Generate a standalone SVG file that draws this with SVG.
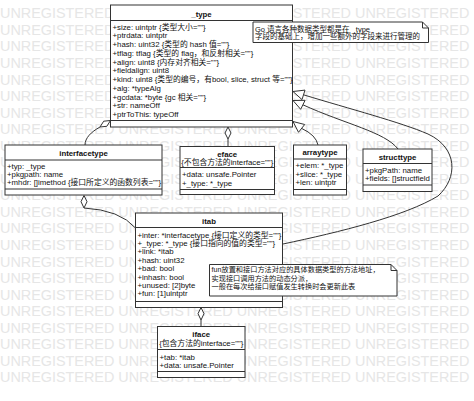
<svg xmlns="http://www.w3.org/2000/svg" width="474" height="401" viewBox="0 0 474 401">
<style>
.bg{fill:#fff}
.box{fill:#fff;stroke:#333;stroke-width:1}
.sep{stroke:#333;stroke-width:1}
.t{font-family:"Liberation Sans","Noto Sans CJK SC",sans-serif;font-size:7.8px;fill:#111}
.n1{font-size:7.5px}
.n2{font-size:7.2px}
.b{font-weight:bold;text-anchor:middle}
.c{text-anchor:middle}
.wm{font-family:"Liberation Sans",sans-serif;font-size:14.4px;fill:#e6e6e6}
.conn path{fill:none;stroke:#333;stroke-width:1}
.conn polygon{fill:#fff;stroke:#333;stroke-width:1}
.note{fill:#fff;stroke:#333;stroke-width:1}
.fold{fill:none;stroke:#333;stroke-width:1}
</style>
<rect class="bg" x="0" y="0" width="474" height="401"/>
<g id="watermark" class="wm">
<text x="0" y="18.3">UNREGISTERED UNREGISTERED UNREGISTERED UNREGISTERED</text>
<text x="0" y="34.85">UNREGISTERED UNREGISTERED UNREGISTERED UNREGISTERED</text>
<text x="0" y="51.4">UNREGISTERED UNREGISTERED UNREGISTERED UNREGISTERED</text>
<text x="0" y="67.95">UNREGISTERED UNREGISTERED UNREGISTERED UNREGISTERED</text>
<text x="0" y="84.5">UNREGISTERED UNREGISTERED UNREGISTERED UNREGISTERED</text>
<text x="0" y="101.05">UNREGISTERED UNREGISTERED UNREGISTERED UNREGISTERED</text>
<text x="0" y="117.6">UNREGISTERED UNREGISTERED UNREGISTERED UNREGISTERED</text>
<text x="0" y="134.15">UNREGISTERED UNREGISTERED UNREGISTERED UNREGISTERED</text>
<text x="0" y="150.7">UNREGISTERED UNREGISTERED UNREGISTERED UNREGISTERED</text>
<text x="0" y="167.25">UNREGISTERED UNREGISTERED UNREGISTERED UNREGISTERED</text>
<text x="0" y="183.8">UNREGISTERED UNREGISTERED UNREGISTERED UNREGISTERED</text>
<text x="0" y="200.35">UNREGISTERED UNREGISTERED UNREGISTERED UNREGISTERED</text>
<text x="0" y="216.9">UNREGISTERED UNREGISTERED UNREGISTERED UNREGISTERED</text>
<text x="0" y="233.45">UNREGISTERED UNREGISTERED UNREGISTERED UNREGISTERED</text>
<text x="0" y="250">UNREGISTERED UNREGISTERED UNREGISTERED UNREGISTERED</text>
<text x="0" y="266.55">UNREGISTERED UNREGISTERED UNREGISTERED UNREGISTERED</text>
<text x="0" y="283.1">UNREGISTERED UNREGISTERED UNREGISTERED UNREGISTERED</text>
<text x="0" y="299.65">UNREGISTERED UNREGISTERED UNREGISTERED UNREGISTERED</text>
<text x="0" y="316.2">UNREGISTERED UNREGISTERED UNREGISTERED UNREGISTERED</text>
<text x="0" y="332.75">UNREGISTERED UNREGISTERED UNREGISTERED UNREGISTERED</text>
<text x="0" y="349.3">UNREGISTERED UNREGISTERED UNREGISTERED UNREGISTERED</text>
<text x="0" y="365.85">UNREGISTERED UNREGISTERED UNREGISTERED UNREGISTERED</text>
<text x="0" y="382.4">UNREGISTERED UNREGISTERED UNREGISTERED UNREGISTERED</text>
</g>
<g id="connectors" class="conn">
<path d="M100,127 C91,132 85,138 85,145"/>
<polygon points="110.5,120.5 106.8,126.3 100,127 103.7,121.2"/>
<path d="M228,139 L228,146.5"/>
<polygon points="228,127 231,133 228,139 225,133"/>
<path d="M301.6,128.4 Q316,135 318,145"/>
<polygon points="293,121.5 298.5,132.3 304.7,124.5"/>
<path d="M302.9,104.8 C345,124 385,132 398,149"/>
<polygon points="293,100.5 300.7,109.3 305.1,100.3"/>
<path d="M303.5,94.8 C350,109 400,122 428,134 C458,148 458,178 438,196 C405,216 340,232 283,244"/>
<polygon points="293,91.5 302,99.6 305,90.1"/>
<path d="M84,208 Q120,210 135.5,228"/>
<polygon points="84,195.5 87,201.7 84,208 81,201.7"/>
<path d="M201,320 L201,326.5"/>
<polygon points="201,307.5 204,313.7 201,320 198,313.7"/>
</g>
<g id="type">
<rect class="box" x="110.5" y="5" width="182" height="122"/>
<line class="sep" x1="110.5" y1="20.5" x2="292.5" y2="20.5"/>
<line class="sep" x1="110.5" y1="120.5" x2="292.5" y2="120.5"/>
<text class="t b" x="201.5" y="16.5">_type</text>
<text class="t" x="112.5" y="29.5">+size: uintptr {类型大小=""}</text>
<text class="t" x="112.5" y="38.25">+ptrdata: uintptr</text>
<text class="t" x="112.5" y="47">+hash: uint32 {类型的 hash 值=""}</text>
<text class="t" x="112.5" y="55.75">+tflag: tflag {类型的 flag，和反射相关=""}</text>
<text class="t" x="112.5" y="64.5">+align: uint8 {内存对齐相关=""}</text>
<text class="t" x="112.5" y="73.25">+fieldalign: uint8</text>
<text class="t" x="112.5" y="82">+kind: uint8 {类型的编号，有bool, slice, struct 等=""}</text>
<text class="t" x="112.5" y="90.75">+alg: *typeAlg</text>
<text class="t" x="112.5" y="99.5">+gcdata: *byte {gc 相关=""}</text>
<text class="t" x="112.5" y="108.25">+str: nameOff</text>
<text class="t" x="112.5" y="117">+ptrToThis: typeOff</text>
</g>
<g id="note-type">
<path class="note" d="M253,22 H422.5 L428.5,28 V42.5 H253 Z"/>
<path class="fold" d="M422.5,22 V28 H428.5"/>
<text class="t n1" x="255" y="31.5">Go 语言各种数据类型都是在 _type</text>
<text class="t n1" x="255" y="39">字段的基础上，增加一些额外的字段来进行管理的</text>
</g>
<g id="interfacetype">
<rect class="box" x="5" y="145" width="157" height="50"/>
<line class="sep" x1="5" y1="160" x2="162" y2="160"/>
<line class="sep" x1="5" y1="189" x2="162" y2="189"/>
<text class="t b" x="83.5" y="155.5">interfacetype</text>
<text class="t" x="7" y="168.5">+typ: _type</text>
<text class="t" x="7" y="176.8">+pkgpath: name</text>
<text class="t" x="7" y="185.2">+mhdr: []imethod {接口所定义的函数列表=""}</text>
</g>
<g id="eface">
<rect class="box" x="180" y="146.5" width="94.5" height="48"/>
<line class="sep" x1="180" y1="167.5" x2="274.5" y2="167.5"/>
<line class="sep" x1="180" y1="189.5" x2="274.5" y2="189.5"/>
<text class="t b" x="227.25" y="156.5">eface</text>
<text class="t c" x="227.25" y="164.5">{不包含方法的interface=""}</text>
<text class="t" x="182" y="177">+data: unsafe.Pointer</text>
<text class="t" x="182" y="185.5">+_type: *_type</text>
</g>
<g id="arraytype">
<rect class="box" x="293.5" y="145" width="53" height="50"/>
<line class="sep" x1="293.5" y1="159" x2="346.5" y2="159"/>
<line class="sep" x1="293.5" y1="189.5" x2="346.5" y2="189.5"/>
<text class="t b" x="320" y="155">arraytype</text>
<text class="t" x="295.5" y="168">+elem: *_type</text>
<text class="t" x="295.5" y="176.5">+slice: *_type</text>
<text class="t" x="295.5" y="185">+len: uintptr</text>
</g>
<g id="structtype">
<rect class="box" x="363" y="149" width="69" height="42.5"/>
<line class="sep" x1="363" y1="163.5" x2="432" y2="163.5"/>
<line class="sep" x1="363" y1="185" x2="432" y2="185"/>
<text class="t b" x="397.5" y="159.5">structtype</text>
<text class="t" x="365" y="172.5">+pkgPath: name</text>
<text class="t" x="365" y="181">+fields: []structfield</text>
</g>
<g id="itab">
<rect class="box" x="135.5" y="213" width="147" height="94.5"/>
<line class="sep" x1="135.5" y1="227.5" x2="282.5" y2="227.5"/>
<line class="sep" x1="135.5" y1="301.5" x2="282.5" y2="301.5"/>
<text class="t b" x="209" y="224">itab</text>
<text class="t" x="137.5" y="237.5">+inter: *interfacetype {接口定义的类型=""}</text>
<text class="t" x="137.5" y="245.9">+_type: *_type {接口指向的值的类型=""}</text>
<text class="t" x="137.5" y="254.3">+link: *itab</text>
<text class="t" x="137.5" y="262.7">+hash: uint32</text>
<text class="t" x="137.5" y="271.1">+bad: bool</text>
<text class="t" x="137.5" y="279.5">+inhash: bool</text>
<text class="t" x="137.5" y="287.9">+unused: [2]byte</text>
<text class="t" x="137.5" y="296.3">+fun: [1]uintptr</text>
</g>
<g id="note-itab">
<path class="note" d="M209.5,264.5 H391 L397,270.5 V296 H209.5 Z"/>
<path class="fold" d="M391,264.5 V270.5 H397"/>
<text class="t n2" x="211.5" y="272">fun放置和接口方法对应的具体数据类型的方法地址，</text>
<text class="t n2" x="211.5" y="280.5">实现接口调用方法的动态分派，</text>
<text class="t n2" x="211.5" y="289">一般在每次给接口赋值发生转换时会更新此表</text>
</g>
<g id="iface">
<rect class="box" x="157.5" y="326.5" width="87.5" height="51"/>
<line class="sep" x1="157.5" y1="349.5" x2="245" y2="349.5"/>
<line class="sep" x1="157.5" y1="371.5" x2="245" y2="371.5"/>
<text class="t b" x="201.25" y="337">iface</text>
<text class="t c" x="201.25" y="345.5">{包含方法的interface=""}</text>
<text class="t" x="159.5" y="360">+tab: *itab</text>
<text class="t" x="159.5" y="368.3">+data: unsafe.Pointer</text>
</g>
</svg>
